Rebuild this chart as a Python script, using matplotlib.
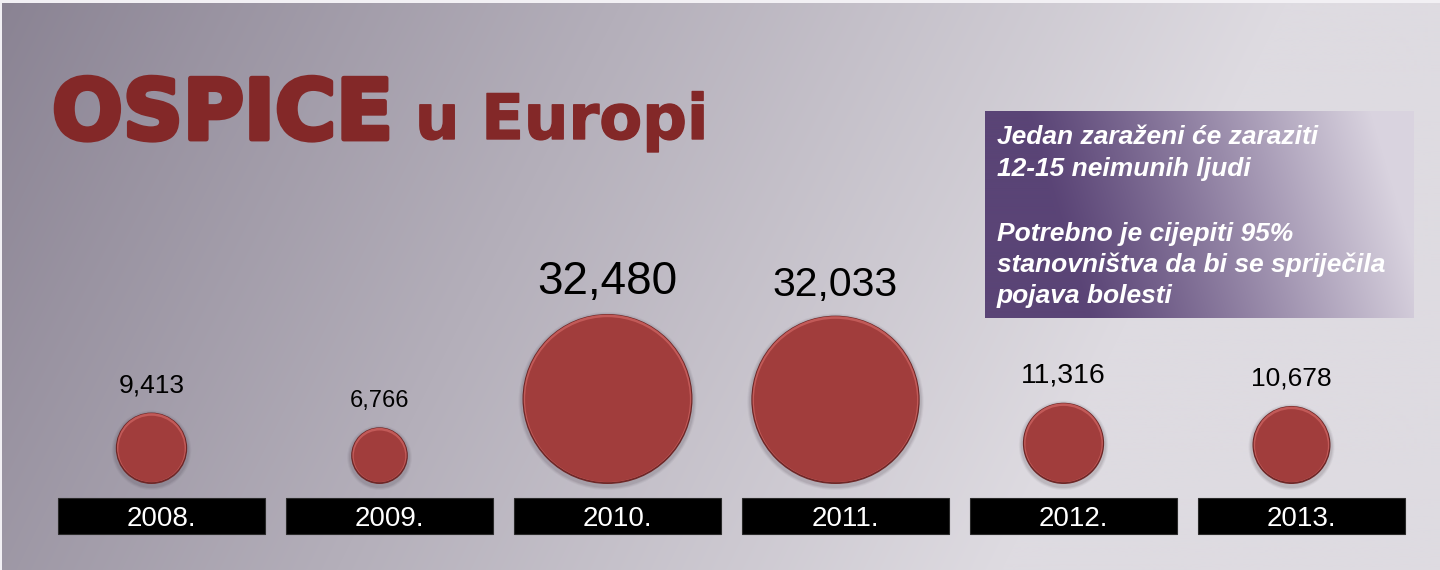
import numpy as np
import matplotlib
matplotlib.use("Agg")
import matplotlib.pyplot as plt
from matplotlib.patches import Circle, Rectangle
from matplotlib.colors import to_rgb
import matplotlib.patheffects as pe

# ---- data ----
years = ["2008.", "2009.", "2010.", "2011.", "2012.", "2013."]
cases = [9413, 6766, 32480, 32033, 11316, 10678]
value_labels = ["9,413", "6,766", "32,480", "32,033", "11,316", "10,678"]
title_main = "OSPICE"
title_rest = "u Europi"
info_lines = ["Jedan zaraženi će zaraziti", "12-15 neimunih ljudi", "",
              "Potrebno je cijepiti 95%", "stanovništva da bi se spriječila",
              "pojava bolesti"]

# ---- styles ----
label_sizes = [19, 17, 33, 29.5, 20.5, 19]
W, H, DPI = 1440, 570, 100
UNIT = 228.0            # pixels per category step
X0_PX = 161.5           # pixel x of first category
BASE_PX = 484.0         # pixel y of circle bottoms

fig = plt.figure(figsize=(W / DPI, H / DPI), dpi=DPI)
fig.patch.set_facecolor("#f2f0f4")

# background gradient
bg = fig.add_axes([2 / W, 0, 1 - 2 / W, 1 - 3 / H], zorder=0)
bg.set_axis_off()
yy, xx = np.mgrid[0:H, 0:W]
t = np.clip((xx + 0.5 * yy) / 1285.0, 0, 1) ** 0.95
c0 = np.array(to_rgb("#8a8393"))
c1 = np.array(to_rgb("#dedbe1"))
img = c0[None, None, :] * (1 - t[..., None]) + c1[None, None, :] * t[..., None]
bg.imshow(img, aspect="auto", extent=[0, 1, 0, 1], origin="upper")
bg.set_xlim(0, 1)
bg.set_ylim(0, 1)

# main data axes: x in category units, y in same units (equal aspect)
ax = fig.add_axes([0, 0, 1, 1], zorder=1)
ax.patch.set_alpha(0)
ax.set_axis_off()
ax.set_xlim(-X0_PX / UNIT, (W - X0_PX) / UNIT)
ax.set_ylim(-(H - BASE_PX) / UNIT, BASE_PX / UNIT)


def px(v):
    return v / UNIT


# radius scale (power scale on the values)
vmax = max(cases)
r_max = px(85)


def radius(v):
    return r_max * (v / vmax) ** 0.7


x_idx = np.arange(len(years))
off = px(-10)

for i, (v, lab, yr, fs) in enumerate(zip(cases, value_labels, years, label_sizes)):
    r = radius(v)
    cx = x_idx[i] + off
    cy = r
    # shadow
    for k, a in [(4, 0.05), (3, 0.07), (2, 0.09)]:
        ax.add_patch(Circle((cx, cy - px(2)), r + px(k), facecolor="#3a2d3a",
                            edgecolor="none", alpha=a, zorder=2))
    # bevel: dark rim, light upper rim, main fill
    ax.add_patch(Circle((cx, cy), r, facecolor="#6e2727", edgecolor="none", zorder=3))
    ax.add_patch(Circle((cx, cy + px(0.6)), r - px(1.2), facecolor="#c25a58",
                        edgecolor="none", zorder=3))
    ax.add_patch(Circle((cx, cy - px(0.6)), r - px(2.6), facecolor="#a13d3c",
                        edgecolor="none", zorder=3))
    # value label
    ax.text(cx, 2 * r + px(20), lab, ha="center", va="baseline",
            fontsize=fs, family="Liberation Sans", color="black", zorder=4)
    # year box
    ax.add_patch(Rectangle((x_idx[i] - px(103.5), px(-50)), px(207), px(36),
                           facecolor="black", edgecolor="#2a2a2a", linewidth=0.8,
                           zorder=3))
    ax.text(x_idx[i], px(-32), yr, ha="center", va="center_baseline",
            fontsize=20, family="Liberation Sans", color="white", zorder=4)

# title
t1 = fig.text(52 / W, 1 - 139 / H, title_main, fontsize=60, fontweight="bold",
              family="DejaVu Sans", color="#832828", va="baseline", ha="left", zorder=5)
t1.set_path_effects([pe.Stroke(linewidth=3.5, foreground="#832828"), pe.Normal()])
t2 = fig.text(415 / W, 1 - 139 / H, title_rest, fontsize=45, fontweight="bold",
              family="DejaVu Sans", color="#832828", va="baseline", ha="left", zorder=5)
t2.set_path_effects([pe.Stroke(linewidth=1.0, foreground="#832828"), pe.Normal()])

# info box with purple gradient
bx0, bx1, by0, by1 = 985, 1414, 111, 318
box = fig.add_axes([bx0 / W, 1 - by1 / H, (bx1 - bx0) / W, (by1 - by0) / H], zorder=3)
box.set_axis_off()
bh, bw = by1 - by0, bx1 - bx0
gy, gx = np.mgrid[0:bh, 0:bw]
tb = np.clip((gx / bw) * 1.25 - 0.22 - 0.18 * (gy / bh) + 0.1, 0, 1)
tb = tb ** 1.1
p0 = np.array(to_rgb("#5a4476"))
p1 = np.array(to_rgb("#d9d3df"))
bimg = p0[None, None, :] * (1 - tb[..., None]) + p1[None, None, :] * tb[..., None]
box.imshow(bimg, aspect="auto", extent=[0, 1, 0, 1], origin="upper")
box.set_xlim(0, 1)
box.set_ylim(0, 1)

line_y = [144, 176, None, 241, 272, 303]
for txt, ly in zip(info_lines, line_y):
    if not txt:
        continue
    fig.text(997 / W, 1 - ly / H, txt, fontsize=19, fontweight="bold", style="italic",
             family="Liberation Sans", color="white", va="baseline", ha="left", zorder=6)

fig.savefig("out.png", dpi=DPI)
